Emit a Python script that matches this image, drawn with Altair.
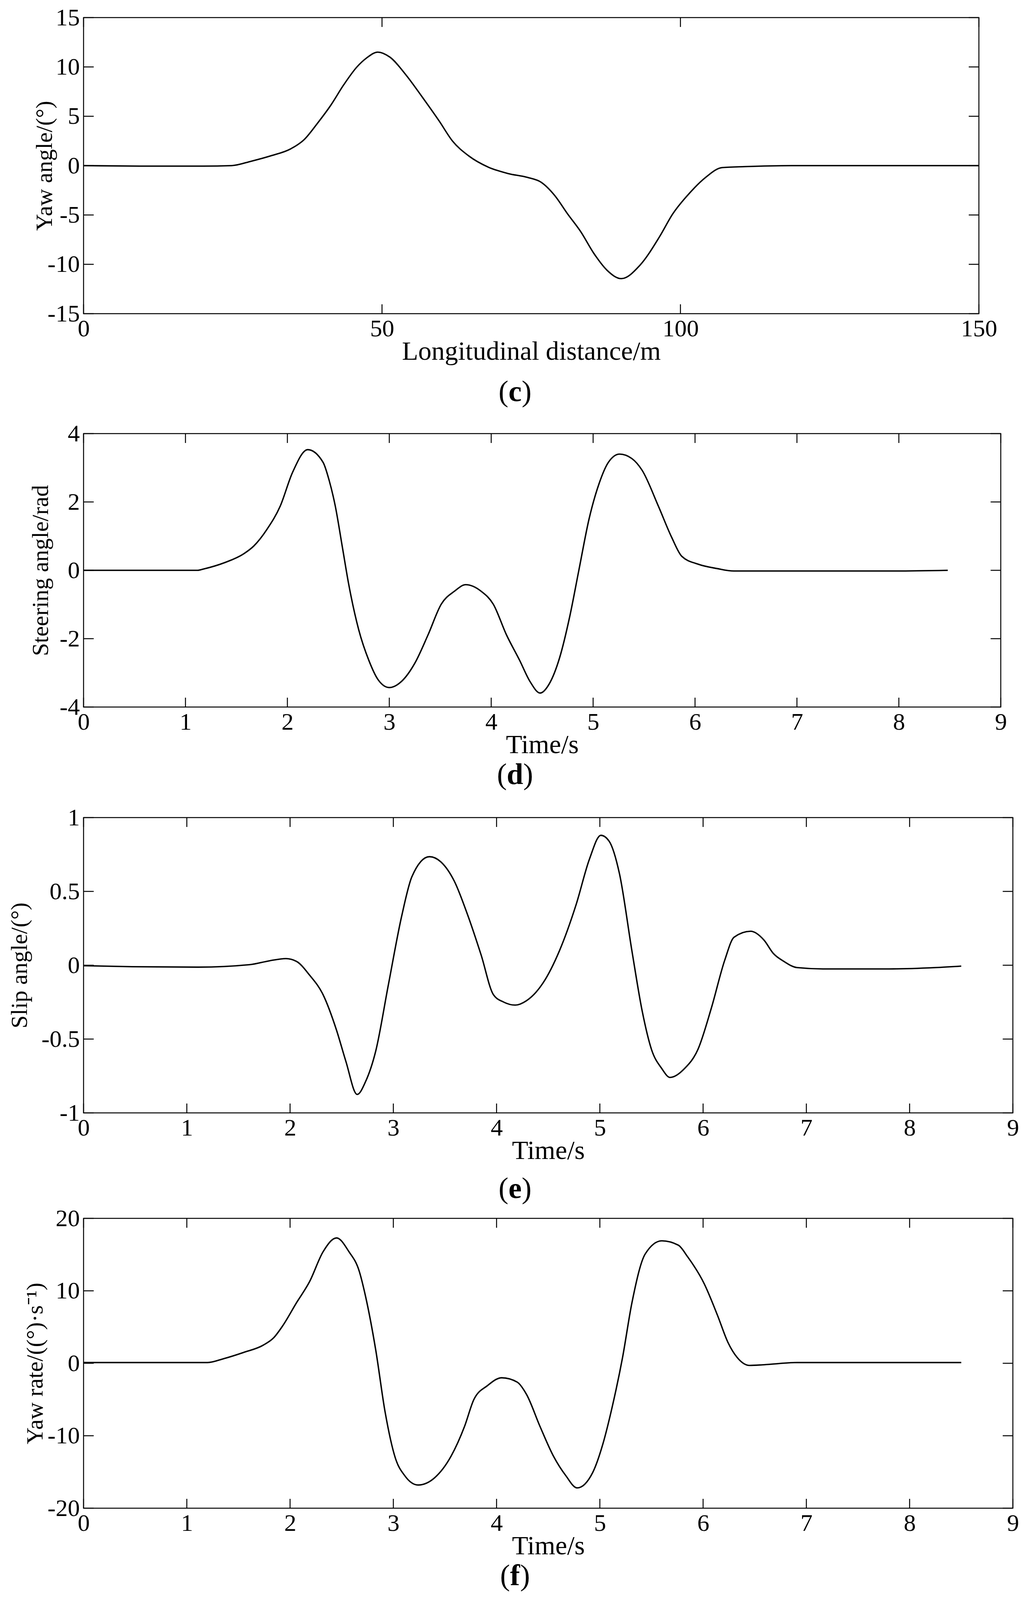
import altair as alt
import pandas as pd

# ---------------- data ----------------
# (c) Yaw angle vs longitudinal distance
c_x = [0, 10, 20, 24.8, 28.1, 31.4, 34.7, 36.9, 39.2, 41.4, 43.6, 45.8, 47.4, 49.3, 51.3, 54.0,
       56.8, 59.6, 61.8, 64.5, 67.8, 71.1, 74.4, 76.7, 78.9, 81.1, 83.3, 85.5, 87.7, 90.1, 93.2,
       96.5, 98.7, 101.5, 104.2, 107.0, 110.8, 118.6, 130, 150]
c_y = [0, -0.05, -0.05, 0, 0.45, 1.0, 1.7, 2.6, 4.3, 6.1, 8.2, 10.0, 10.9, 11.5, 11.0, 9.2,
       6.9, 4.5, 2.5, 1.0, -0.15, -0.8, -1.2, -1.7, -3.0, -4.9, -6.7, -8.9, -10.6, -11.45, -10.1,
       -7.2, -4.9, -2.8, -1.2, -0.2, -0.1, 0, 0, 0]

# (d) Steering angle vs time
d_x = [0, 0.5, 1.12, 1.18, 1.38, 1.57, 1.67, 1.8, 1.93, 2.05, 2.2, 2.35, 2.41, 2.47, 2.54, 2.6,
       2.7, 2.8, 2.89, 3.0, 3.12, 3.25, 3.38, 3.51, 3.64, 3.75, 3.9, 4.02, 4.15, 4.28, 4.38, 4.48,
       4.57, 4.67, 4.77, 4.86, 4.96, 5.06, 5.15, 5.26, 5.38, 5.48, 5.64, 5.77, 5.87, 6.03, 6.22,
       6.38, 6.93, 7.97, 8.48]
d_y = [0, 0, 0, 0.04, 0.22, 0.48, 0.71, 1.2, 1.88, 2.86, 3.53, 3.16, 2.63, 1.88, 0.67, -0.38,
       -1.74, -2.64, -3.2, -3.43, -3.25, -2.72, -1.89, -0.99, -0.61, -0.42, -0.61, -0.99, -1.89,
       -2.64, -3.25, -3.59, -3.32, -2.57, -1.36, 0, 1.5, 2.55, 3.16, 3.4, 3.27, 2.93, 1.88, 0.97,
       0.41, 0.18, 0.05, -0.02, -0.02, -0.02, 0]

# (e) Slip angle vs time
e_x = [0, 0.47, 1.1, 1.61, 1.8, 1.96, 2.06, 2.19, 2.32, 2.45, 2.54, 2.65, 2.73, 2.83, 2.95, 3.08,
       3.18, 3.35, 3.46, 3.59, 3.72, 3.85, 3.97, 4.07, 4.18, 4.29, 4.45, 4.61, 4.77, 4.9, 5.01,
       5.09, 5.19, 5.31, 5.41, 5.5, 5.6, 5.68, 5.82, 5.95, 6.08, 6.21, 6.3, 6.46, 6.59, 6.68,
       6.78, 6.91, 7.16, 7.8, 8.25, 8.5]
e_y = [-0.003, -0.01, -0.013, 0.004, 0.03, 0.045, 0.027, -0.068, -0.2, -0.44, -0.65, -0.875,
       -0.79, -0.58, -0.14, 0.33, 0.6, 0.735, 0.7, 0.57, 0.34, 0.07, -0.2, -0.25, -0.27, -0.24,
       -0.12, 0.1, 0.41, 0.72, 0.88, 0.84, 0.62, 0.1, -0.31, -0.57, -0.7, -0.76, -0.7, -0.57,
       -0.29, 0.035, 0.19, 0.23, 0.17, 0.08, 0.027, -0.016, -0.025, -0.025, -0.016, -0.006]

# (f) Yaw rate vs time
f_x = [0, 0.6, 1.2, 1.36, 1.55, 1.74, 1.84, 1.93, 2.06, 2.19, 2.32, 2.45, 2.57, 2.67, 2.73, 2.83,
       2.92, 3.02, 3.11, 3.24, 3.4, 3.56, 3.69, 3.78, 3.91, 4.05, 4.2, 4.29, 4.42, 4.55, 4.67,
       4.78, 4.93, 5.03, 5.12, 5.22, 5.31, 5.44, 5.6, 5.76, 5.85, 6.01, 6.14, 6.24, 6.33, 6.45,
       6.59, 6.91, 7.7, 8.5]
f_y = [0.1, 0.1, 0.1, 0.65, 1.5, 2.5, 3.5, 5.2, 8.3, 11.3, 15.4, 17.3, 15.4, 12.7, 9.3, 1.8,
       -6.7, -13.1, -15.5, -16.8, -15.8, -12.8, -8.7, -5.0, -3.1, -2.0, -2.6, -4.3, -8.7, -12.8,
       -15.5, -17.2, -15.1, -11.1, -6.0, 0.8, 8.3, 15.1, 16.9, 16.3, 14.7, 11.0, 6.6, 2.9, 0.8,
       -0.3, -0.2, 0.1, 0.1, 0.1]

c_xticks = [0, 50, 100, 150]
c_yticks = [-15, -10, -5, 0, 5, 10, 15]
t_xticks = [0, 1, 2, 3, 4, 5, 6, 7, 8, 9]
d_yticks = [-4, -2, 0, 2, 4]
e_yticks = [-1, -0.5, 0, 0.5, 1]
f_yticks = [-20, -10, 0, 10, 20]

# ---------------- styling ----------------
FONT = "Liberation Serif"
TICK_H = 26   # length of left/right ticks
TICK_V = 24   # length of top/bottom ticks
CAP_X = 1105
CAP_FS = 76
TOP_EXT = 33


def panel(xs, ys, xdom, xticks, ydom, yticks, W, H, xtitle, ytitle, ytx,
          letter, half, capy, below):
    xsc = alt.Scale(domain=xdom, nice=False, zero=False)
    ysc = alt.Scale(domain=ydom, nice=False, zero=False)
    xax = alt.Axis(values=xticks, title=xtitle, labelExpr="datum.value + ''",
                   titleY=97, titleBaseline="middle")
    yax = alt.Axis(values=yticks, title=ytitle, labelExpr="datum.value + ''",
                   titleX=ytx, titleY=H / 2, titleAngle=270, titleBaseline="alphabetic",
                   titleAlign="center", labelPadding=10, titleFontSize=60)
    line = alt.Chart(pd.DataFrame({"x": xs, "y": ys})).mark_line(
        color="black", strokeWidth=3.6, interpolate="monotone"
    ).encode(
        x=alt.X("x:Q", scale=xsc, axis=xax),
        y=alt.Y("y:Q", scale=ysc, axis=yax),
    )
    xt = pd.DataFrame({"x": xticks})
    yt = pd.DataFrame({"y": yticks})
    rule = dict(color="black", strokeWidth=2.5)
    bt = alt.Chart(xt).mark_rule(**rule).encode(
        x=alt.X("x:Q", scale=xsc, axis=xax), y=alt.value(H), y2=alt.value(H - TICK_V))
    tt = alt.Chart(xt).mark_rule(**rule).encode(
        x=alt.X("x:Q", scale=xsc, axis=xax), y=alt.value(0), y2=alt.value(TICK_V))
    lt = alt.Chart(yt).mark_rule(**rule).encode(
        y=alt.Y("y:Q", scale=ysc, axis=yax), x=alt.value(0), x2=alt.value(TICK_H))
    rt = alt.Chart(yt).mark_rule(**rule).encode(
        y=alt.Y("y:Q", scale=ysc, axis=yax), x=alt.value(W), x2=alt.value(W - TICK_H))
    txt = dict(font=FONT, fontSize=CAP_FS, baseline="alphabetic", color="black")
    cy = H + capy + 19
    mid = alt.Chart(pd.DataFrame({"t": [letter]})).mark_text(
        align="center", fontWeight="bold", **txt).encode(
        text="t:N", x=alt.value(CAP_X), y=alt.value(cy))
    lp = alt.Chart(pd.DataFrame({"t": ["("]})).mark_text(
        align="right", **txt).encode(
        text="t:N", x=alt.value(CAP_X - half), y=alt.value(cy))
    rp = alt.Chart(pd.DataFrame({"t": [")"]})).mark_text(
        align="left", **txt).encode(
        text="t:N", x=alt.value(CAP_X + half), y=alt.value(cy))
    # white spacer that fixes each panel's outer extent (keeps plot boxes aligned and spaced)
    spacer = alt.Chart(pd.DataFrame({"k": [0]})).mark_rule(
        color="white", strokeWidth=1).encode(
        x=alt.value(-204), y=alt.value(-TOP_EXT), y2=alt.value(H + below))
    return alt.layer(spacer, line, bt, tt, lt, rt, lp, mid, rp).properties(width=W, height=H)


pc = panel(c_x, c_y, [0, 150], c_xticks, [-15, 15], c_yticks, 2293, 758,
           "Longitudinal distance/m", "Yaw angle/(°)", -82, "c", 17, 205, 270)
pd_ = panel(d_x, d_y, [0, 9], t_xticks, [-4, 4], d_yticks, 2349, 700,
            "Time/s", "Steering angle/rad", -92, "d", 21, 178, 246)
pe = panel(e_x, e_y, [0, 9], t_xticks, [-1, 1], e_yticks, 2380, 756,
           "Time/s", "Slip angle/(°)", -146, "e", 17, 199, 228)
pf = panel(f_x, f_y, [0, 9], t_xticks, [-20, 20], f_yticks, 2380, 742,
           "Time/s", "Yaw rate/((°)·s⁻¹)", -106, "f", 13, 178, 170)

chart = alt.vconcat(pc, pd_, pe, pf, spacing=0, bounds="full").properties(
    padding={"left": 0, "top": 2, "right": 0, "bottom": 0},
    background="white",
).configure_view(
    stroke="black", strokeWidth=2.5
).configure_axis(
    labelFont=FONT, labelFontSize=62, labelColor="black", labelPadding=8,
    labelFlush=False, labelOverlap=False,
    titleFont=FONT, titleFontSize=68, titleFontWeight="normal", titleColor="black",
    ticks=False, tickSize=0, domain=False, grid=False,
)

chart.save("out.html", embed_options={"renderer": "svg", "actions": False})
